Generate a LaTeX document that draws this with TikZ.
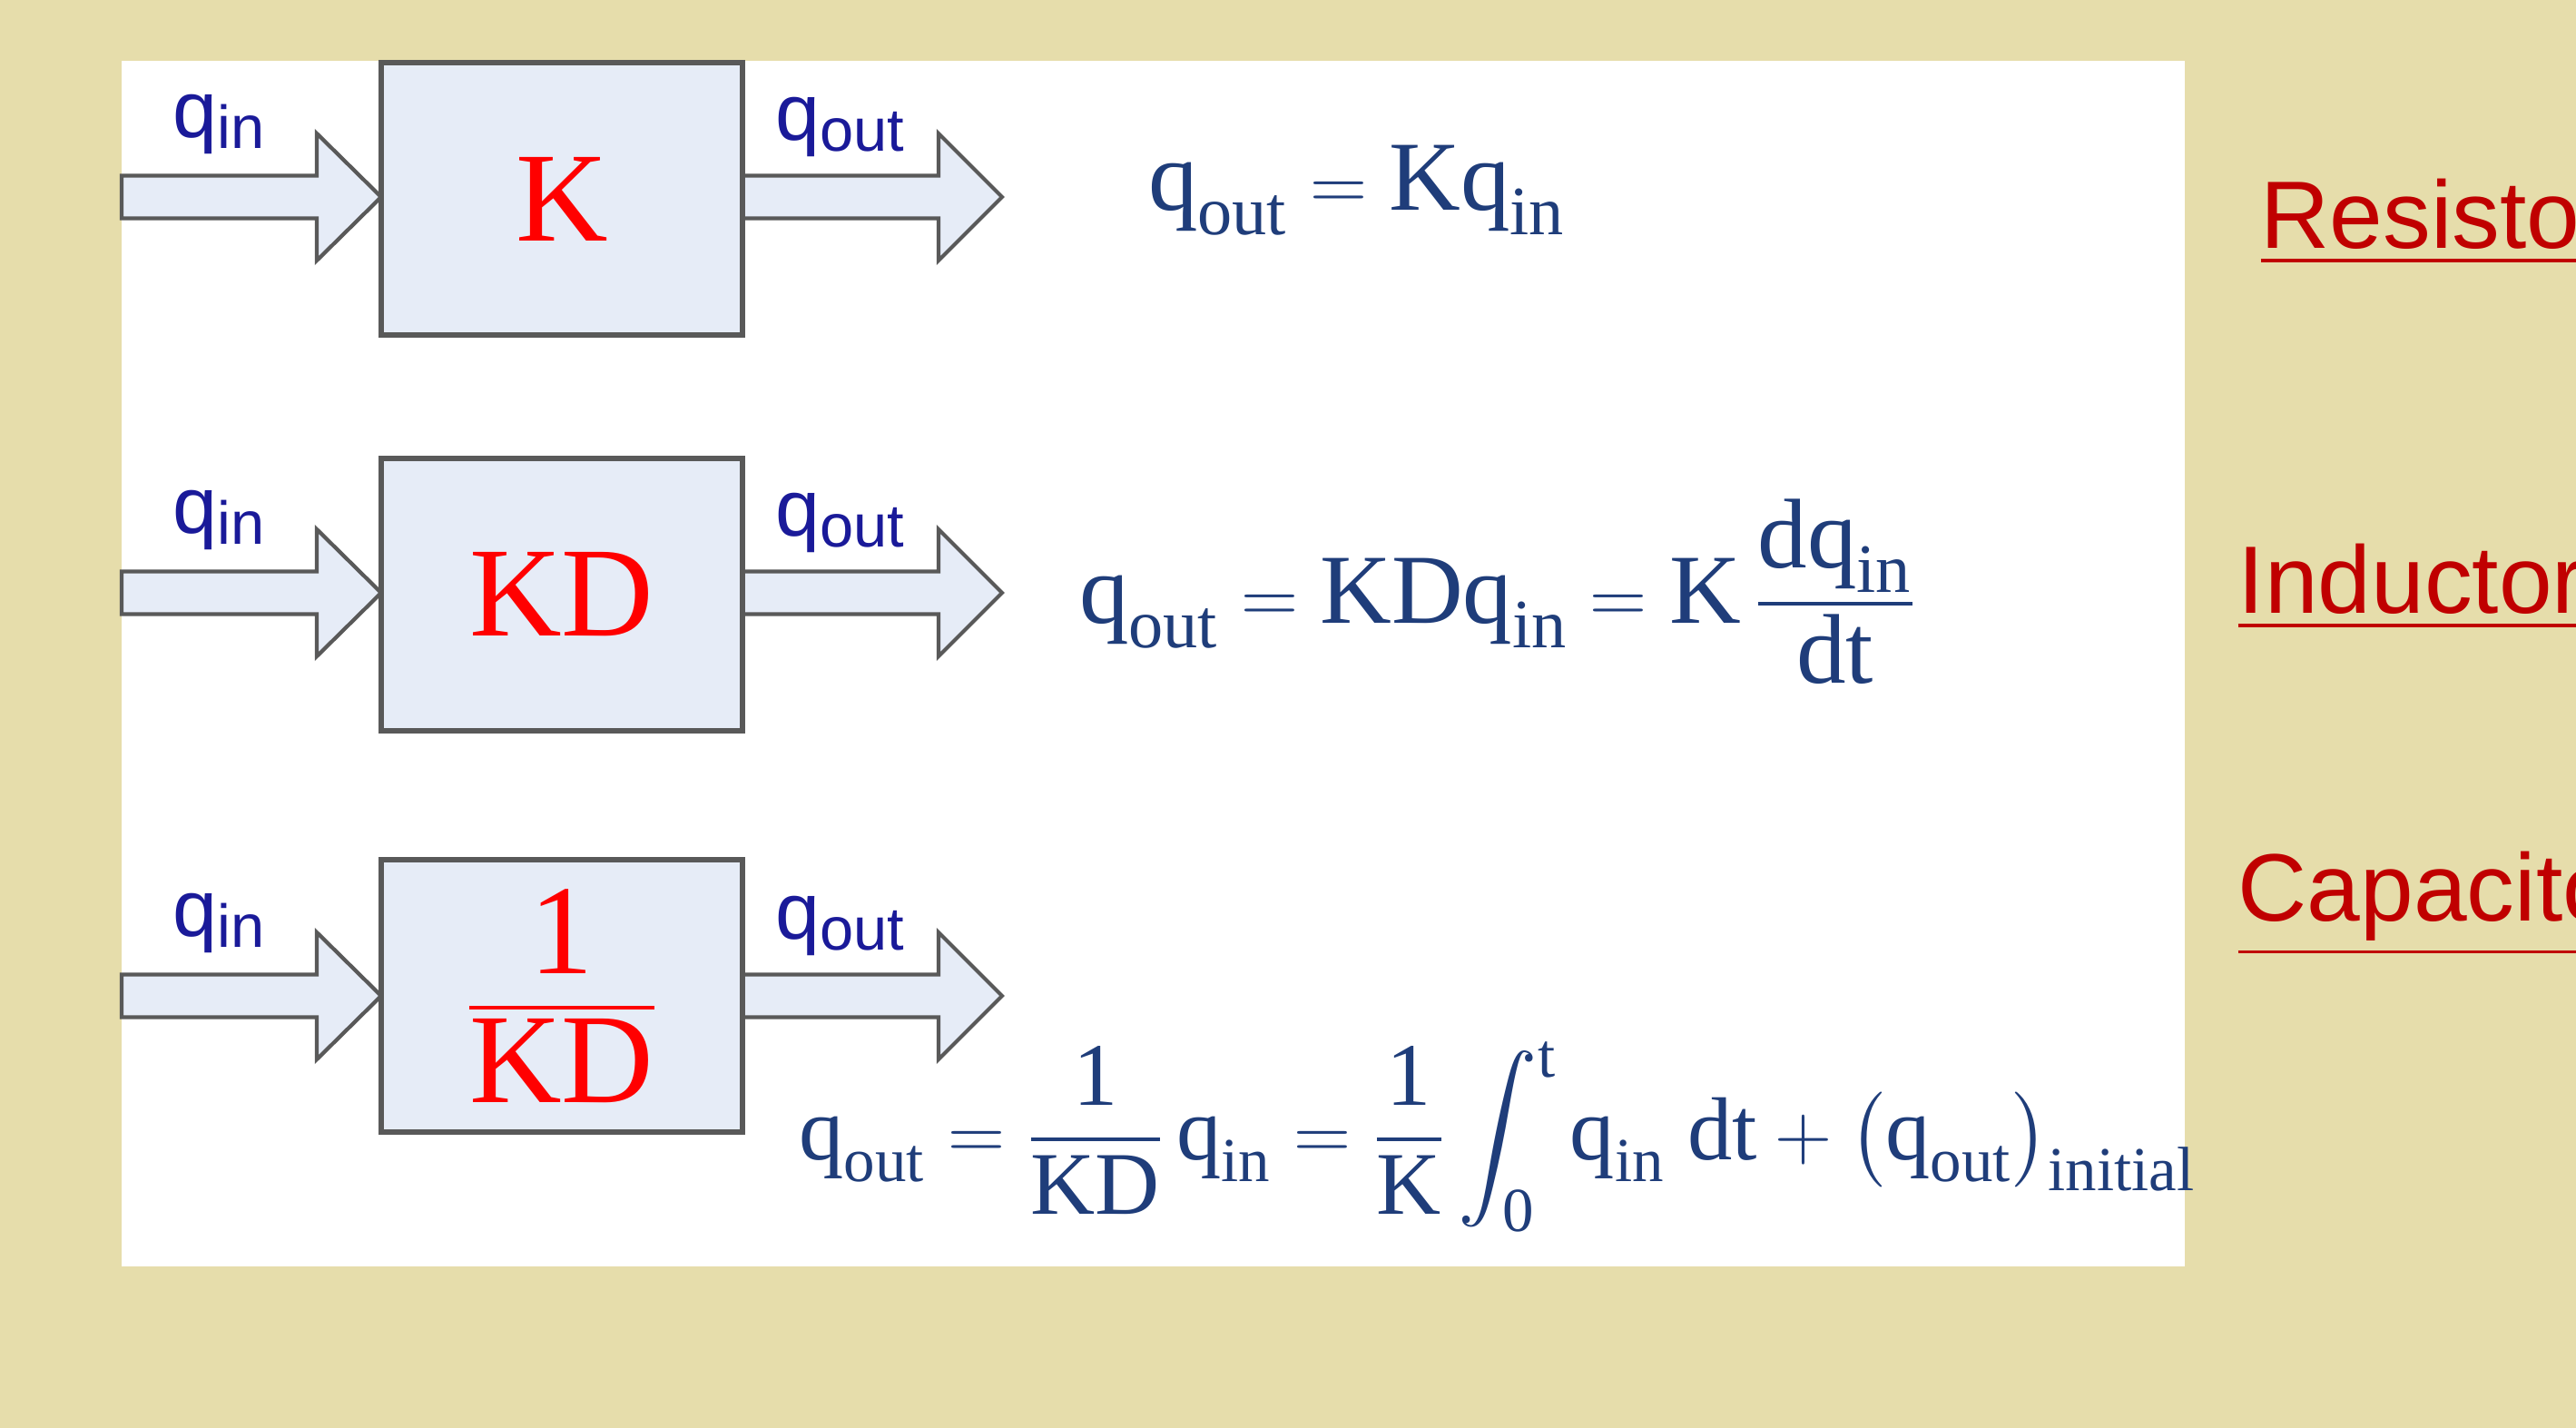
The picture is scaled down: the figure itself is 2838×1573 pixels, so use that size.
\documentclass[tikz,border=0pt]{standalone}
\usepackage{amsmath}
\usepackage{fontspec}
\setmainfont{Liberation Serif}
\newfontfamily\arialf{Liberation Sans}
\definecolor{bg}{HTML}{E6DDAB}
\definecolor{boxfill}{HTML}{E6ECF7}
\definecolor{lblue}{HTML}{1A1A99}
\definecolor{eqblue}{HTML}{1F3D7A}
\definecolor{dred}{HTML}{C00000}
\begin{document}
\begin{tikzpicture}[x=0.01cm,y=-0.01cm,
  blk/.style={draw=gray!70!black,line width=1.5pt,fill=boxfill,minimum width=3.98cm,minimum height=3.0cm,inner sep=0pt,text=red,font=\fontsize{40}{44}\selectfont},
  fat/.style={draw=gray!70!black,line width=1.2pt,fill=boxfill},
  lbl/.style={text=lblue,font=\arialf\fontsize{25}{30}\selectfont,inner sep=0pt},
  eq/.style={text=eqblue,font=\fontsize{31}{36}\selectfont,inner sep=0pt},
  side/.style={text=dred,font=\arialf\fontsize{30}{34}\selectfont,inner sep=0pt,anchor=west}]
\fill[bg] (0,0) rectangle (2838,1573);
\useasboundingbox (0,0) rectangle (2838,1573);
\fill[white] (134,67) rectangle (2407,1395);
\foreach \yc/\nm in {217/a,653/b,1097/c}{
  \draw[fat] (134,\yc-23.5) -- (349,\yc-23.5) -- (349,\yc-70) -- (420,\yc) -- (349,\yc+70) -- (349,\yc+23.5) -- (134,\yc+23.5) -- cycle;
  \draw[fat] (818,\yc-23.5) -- (1034,\yc-23.5) -- (1034,\yc-70) -- (1104,\yc) -- (1034,\yc+70) -- (1034,\yc+23.5) -- (818,\yc+23.5) -- cycle;
  \node[lbl] (qi\nm) at (241,\yc-80) {q\raisebox{-0.25ex}{\fontsize{19}{24}\selectfont in}};
  \node[lbl] (qo\nm) at (925,\yc-77) {q\raisebox{-0.25ex}{\fontsize{19}{24}\selectfont out}};
}
\node[blk] (ba) at (619,219) {K};
\node[blk] (bb) at (619,655) {KD};
\node[blk] (bc) at (619,1097) {$\dfrac{\text{1}}{\text{KD}}$};
\node[eq] (e1) at (1495,210) {$\text{q}_{\text{out}} = \text{Kq}_{\text{in}}$};
\node[eq] (e2) at (1650,652) {$\text{q}_{\text{out}} = \text{KDq}_{\text{in}} = \text{K}\,\dfrac{\text{dq}_{\text{in}}}{\text{dt}}$};
\node[eq,font=\fontsize{28}{33}\selectfont] (e3) at (1650,1252) {$\text{q}_{\text{out}} = \dfrac{\text{1}}{\text{KD}}\,\text{q}_{\text{in}} = \dfrac{\text{1}}{\text{K}}\displaystyle\int_{\text{0}}^{\text{t}} \text{q}_{\text{in}}\ \text{dt} + \bigl(\text{q}_{\text{out}}\bigr)_{\text{initial}}$};
\node[side] (r) at (2490,245) {\underline{Resistor}};
\node[side] (i) at (2465,647) {\underline{Inductor}};
\node[side] (c) at (2465,996) {\underline{Capacitor}};
\end{tikzpicture}
\end{document}
